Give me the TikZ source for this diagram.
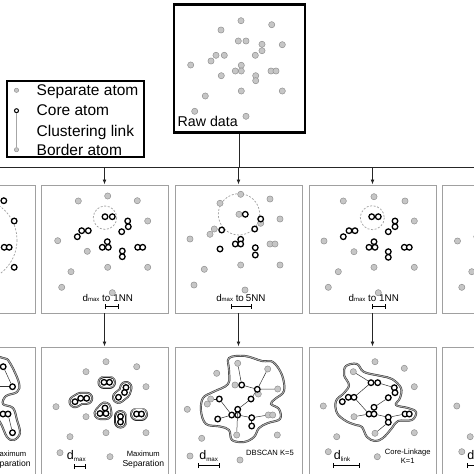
\documentclass[tikz,border=0pt]{standalone}
\usepackage{fontspec}
\setmainfont{Liberation Sans}
\usetikzlibrary{arrows.meta}
\definecolor{dotfill}{HTML}{C6C6C6}
\definecolor{dotline}{HTML}{8A8A8A}
\definecolor{pgray}{HTML}{A0A0A0}
\definecolor{hullgray}{HTML}{A6A6A6}
\newcommand\dm{d{\fontsize{6}{7}\selectfont max}}
\newcommand\dsub[1]{{\fontsize{12.5}{13}\selectfont d}{\fontsize{6.2}{7}\selectfont\raisebox{-1.3pt}{#1}}}
\newcommand\clhull[1]{%
 \draw[line width=13pt,line cap=round,line join=round,black!85] #1;
 \draw[line width=12pt,line cap=round,line join=round,hullgray] #1;
 \draw[line width=10.2pt,line cap=round,line join=round,black!85] #1;
 \draw[line width=9.2pt,line cap=round,line join=round,white] #1;}
\begin{document}
\begin{tikzpicture}[x=1pt,y=-1pt,
 gdot/.style={circle,draw=dotline,fill=dotfill,line width=0.45pt,minimum size=6.2pt,inner sep=0pt},
 cdot/.style={circle,draw=black,fill=white,line width=1.3pt,minimum size=5.6pt,inner sep=0pt},
 panel/.style={draw=pgray,line width=0.9pt,minimum width=127pt,minimum height=128pt,inner sep=0pt},
 panelb/.style={panel,minimum height=150pt},
 rawbox/.style={draw=black,line width=2.6pt,minimum width=131pt,minimum height=128pt,inner sep=0pt},
 legbox/.style={draw=black,line width=1.5pt,minimum width=137pt,minimum height=76pt,inner sep=0pt},
 legt/.style={anchor=base west,inner sep=0pt,font=\fontsize{15.5}{18}\selectfont},
 flow/.style={draw=black!85,line width=0.8pt},
 flowarrow/.style={flow,-{Latex[length=5pt,width=3.8pt]}},
 dashc/.style={draw=gray!75,dash pattern=on 2pt off 1.6pt,line width=0.7pt},
 link/.style={draw=black!80,line width=0.5pt},
 scalebar/.style={draw=black,line width=0.8pt,{Bar[width=5pt]}-{Bar[width=5pt]}},
 hull/.style={draw=black!85,line width=0.45pt,double=hullgray,double distance=1.1pt},
 lbl/.style={inner sep=0pt,font=\fontsize{9.8}{11}\selectfont},
 small/.style={inner sep=0pt,font=\fontsize{7.6}{9}\selectfont},
]
\useasboundingbox (0,0) rectangle (474,474);
\clip (0,0) rectangle (474,474);

% ---------- raw data ----------
\node[rawbox] (raw) at (239.5,68.5) {};
\foreach \x/\y [count=\i] in {241/20.7,271.7/24.7,221/30,238.3/41,246/41,262/44.3,262/50.7,282.3/44.7,216/55.3,224.3/55.3,211/61,255.3/55.3,190.7/65,241.3/65.3,235.3/71,241.3/71,271/71,276/71,221.3/75.7,255.7/75.7,255.7/80.7,241.3/91,282.3/91,205.3/96,194.7/111.3,246/116.3}
  \node[gdot] (r\i) at (\x,\y) {};
\node[anchor=base west,inner sep=0pt,font=\fontsize{14.2}{16}\selectfont] (rawt) at (177.5,126.7) {Raw data};

% ---------- legend ----------
\node[legbox] (legend) at (75.5,119) {};
\node[gdot,minimum size=4.3pt] (lg1) at (16.5,90.3) {};
\node[cdot,minimum size=4pt,line width=1pt] (lg2) at (16.5,110.7) {};
\node[gdot,minimum size=4.3pt] (lg4) at (16.5,149.7) {};
\draw[draw=gray!70,line width=0.8pt] (lg2) -- (lg4);
\node[legt] (lt1) at (36.5,95.7) {Separate atom};
\node[legt] (lt2) at (36.5,115.7) {Core atom};
\node[legt] (lt3) at (36.5,136) {Clustering link};
\node[legt] (lt4) at (36.5,155) {Border atom};

% ---------- panels ----------
\node[panel] (L2) at (-28.5,249) {};
\node[panel] (A2) at (104.5,249) {};
\node[panel] (B2) at (238.5,249) {};
\node[panel] (C2) at (372.5,249) {};
\node[panel] (R2) at (506,249) {};
\node[panelb] (L3) at (-28.5,422) {};
\node[panelb] (A3) at (104.5,422) {};
\node[panelb] (B3) at (238.5,422) {};
\node[panelb] (C3) at (372.5,422) {};
\node[panelb] (R3) at (506,422) {};

% ---------- flow ----------
\coordinate (hl) at (0,167);
\coordinate (hr) at (474,167);
\draw[flow] (hl) -- (hr);
\draw[flow] (raw.south) -- (raw.south |- hl);
\foreach \p in {A2,B2,C2} \draw[flowarrow] (\p.north |- hl) -- (\p.north);
\draw[flowarrow] (A2.south) -- (A3.north);
\draw[flowarrow] (B2.south) -- (B3.north);
\draw[flowarrow] (C2.south) -- (C3.north);

% ---------- row 2 : left partial ----------
\begin{scope}
\clip (L2.south west) rectangle (L2.north east);
\draw[dashc] (-25,240) circle (42);
\foreach \x/\y [count=\i] in {3.8/200.7,14.2/221,4.2/247.3,9.2/247.3,14.2/267.3}
  \node[cdot] (L2b\i) at (\x,\y) {};
\end{scope}

% ---------- row 2 : A ----------
\draw[dashc] (105,217.7) circle (11.7);
\foreach \x/\y [count=\i] in {107.7/196,78.3/201,137.3/200.7,147.7/221,57.7/240.7,87.3/251.3,107.7/267.3,147.7/267.3,71/271.7,61.7/287.3,112.3/292.7}
  \node[gdot] (A2g\i) at (\x,\y) {};
\foreach \x/\y [count=\i] in {105/216.7,112.3/216.7,127.7/221,128.3/226.7,121.7/231.7,81.7/230.7,88.3/230.7,77.3/236.7,107.3/241.7,102.3/247.3,108.3/247.3,122.3/251,122.3/256.7,137.7/247.3,142.7/247.3}
  \node[cdot] (A2b\i) at (\x,\y) {};
\node[lbl] (A2t) at (107.8,297.7) {\dm\ to\hspace{3pt}1NN};
\coordinate (A2s1) at (105,306.7); \coordinate (A2s2) at (118.3,306.7);
\draw[scalebar] (A2s1) -- (A2s2);

% ---------- row 2 : B ----------
\draw[dashc] (239,214.3) circle (20.7);
\foreach \x/\y [count=\i] in {240.7/194.3,220/203.3,270/199,239/214.3,260.7/223.3,280/219,214.3/229,210/234.3,190/239,270/244,275/244,240.7/265,280/265,204.3/269.3,194/285,245/290}
  \node[gdot] (B2g\i) at (\x,\y) {};
\foreach \x/\y [count=\i] in {245.3/214.3,260.7/219,254.7/229,221.7/230,240.7/239.3,235.3/244,240.7/244,220/249,255.3/247.7,255.3/255}
  \node[cdot] (B2b\i) at (\x,\y) {};
\node[lbl] (B2t) at (240.9,297.7) {\dm\ to\hspace{2pt}5NN};
\coordinate (B2s1) at (231,306.7); \coordinate (B2s2) at (251.7,306.7);
\draw[scalebar] (B2s1) -- (B2s2);

% ---------- row 2 : C ----------
\draw[dashc] (372.3,217.7) circle (12);
\foreach \x/\y [count=\i] in {374/196.7,343.3/201,405/201,414.3/221,324/241,354/251.7,374/267.3,414.3/267.3,338.3/271.7,328.3/287.3,378.3/292.7}
  \node[gdot] (C2g\i) at (\x,\y) {};
\foreach \x/\y [count=\i] in {371.7/216.7,378.3/216.7,395/221,395/226.7,388.3/231.7,349/230.7,355/230.7,343.3/236.7,374/241.7,369/247.3,375/247.3,388.3/251.7,388.3/257.3,404.3/247.3,409.3/247.3}
  \node[cdot] (C2b\i) at (\x,\y) {};
\node[lbl] (C2t) at (373.7,297.7) {\dm\ to\hspace{3pt}1NN};
\coordinate (C2s1) at (371.7,306.7); \coordinate (C2s2) at (386,306.7);
\draw[scalebar] (C2s1) -- (C2s2);

% ---------- row 2 : right partial ----------
\begin{scope}
\clip (R2.south west) rectangle (R2.north east);
\foreach \x/\y [count=\i] in {457.5/241,471.8/271.7,461.8/287.3,476.8/236.7}
  \node[gdot] (R2g\i) at (\x,\y) {};
\end{scope}

% ---------- row 3 : left partial ----------
\begin{scope}
\clip (L3.south west) rectangle (L3.north east);
\draw[hull] plot[smooth cycle,tension=0.6] coordinates {(-20,356) (3,358) (10,363) (19,383) (17,392) (6,396) (3,404) (13,408) (17,420) (20,433) (14,440) (7,437) (0,422) (-10,410) (-20,400)};
\foreach \x/\y [count=\i] in {3.2/366.7,12.5/386.7,3/414,8/414,12.5/432.7}
  \node[cdot] (L3b\i) at (\x,\y) {};
\coordinate (L3e) at (-6,386.7);
\draw[link] (L3b1) -- (L3b2);
\draw[link] (L3b2) -- (L3e);
\draw[link] (L3b4) -- (L3b5);
\node[small] (L3t1) at (9.8,453.3) {Maximum};
\node[small,font=\fontsize{8.6}{10}\selectfont] (L3t2) at (9.8,464) {Separation};
\end{scope}

% ---------- row 3 : A (Maximum Separation) ----------
\clhull{(104,382.3) -- (109.5,382.3)}
\clhull{(126,387.5) -- (124.5,392.5) -- (118.5,397.3)}
\clhull{(75,401.7) -- (80.7,398.3) -- (86.7,398.3)}
\clhull{(105,408) -- (100,413.5) -- (106,413.5) -- cycle}
\clhull{(120.5,416.5) -- (120.5,422)}
\clhull{(136.5,414) -- (141.5,414)}
\foreach \x/\y [count=\i] in {106/361.7,86/371.7,136.7/366.7,146/386.7,56/406.7,86/416.7,106/432.7,146/432.7,70/436.7,60/452.7,110/456.7}
  \node[gdot] (A3g\i) at (\x,\y) {};
\foreach \x/\y [count=\i] in {104/382.3,109.5/382.3,126/387.5,124.5/392.5,118.5/397.3,75/401.7,80.7/398.3,86.7/398.3,105/408,100/413.5,106/413.5,120.5/416.5,120.5/422,136.5/414,141.5/414}
  \node[cdot] (A3b\i) at (\x,\y) {};
\node[inner sep=0pt] (A3t) at (76.3,456) {\dsub{max}};
\coordinate (A3s1) at (74,466.7); \coordinate (A3s2) at (86,466.7);
\draw[scalebar] (A3s1) -- (A3s2);
\node[small] (A3m) at (143.3,453.3) {Maximum};
\node[small,font=\fontsize{8.6}{10}\selectfont] (A3n) at (143.3,464) {Separation};

% ---------- row 3 : B (DBSCAN) ----------
\draw[hull] plot[smooth cycle,tension=0.6] coordinates {(229,358) (245,356) (262,361) (273,362) (282,375) (284,391) (275,399) (271,404) (279,409) (280,419) (268,423) (259,428) (254,437) (244,442) (232,440) (229,430) (220,426.5) (206,424) (201,411) (203,398) (213,392) (228,384) (229,370)};
\foreach \x/\y [count=\i] in {237.7/363.3,216.7/373.3,267.7/369,235/385,277.7/389,258.3/394,210.7/399,207.3/404,187.3/409.3,268.3/415,272.7/415,236.7/435,277.3/435,201.7/438.3,190/456,240/460}
  \node[gdot] (B3g\i) at (\x,\y) {};
\foreach \x/\y [count=\i] in {241.7/385,257.3/389.3,251/399,219.3/399,237.7/409.3,231.7/415,237.7/415,217.7/419,251.7/417.7,251.7/426}
  \node[cdot] (B3b\i) at (\x,\y) {};
\foreach \a/\b in {B3g1/B3b1,B3b1/B3b2,B3b2/B3g3,B3b2/B3g5,B3b2/B3b3,B3b3/B3b5,B3b4/B3g7,B3b4/B3b6,B3b6/B3b8,B3b7/B3b9,B3b9/B3g10,B3b5/B3g12,B3b9/B3b10,B3b5/B3b7}
  \draw[link] (\a) -- (\b);
\node[inner sep=0pt] (B3t) at (208.7,456) {\dsub{max}};
\coordinate (B3s1) at (198.3,465.7); \coordinate (B3s2) at (219.3,465.7);
\draw[scalebar] (B3s1) -- (B3s2);
\node[small] (B3k) at (270,452.7) {DBSCAN K=5};

% ---------- row 3 : C (Core-Linkage) ----------
\draw[hull] plot[smooth cycle,tension=0.6] coordinates {(346,366) (357,364) (364,372) (381,376) (392,379) (401,388) (400,398) (396,405) (408,408) (416,412) (412,420) (398,421) (392,428) (383,438) (375,441) (367,437) (362,427) (356,425) (346,421) (337,413) (336,401) (344,393) (349,385) (344,375)};
\foreach \x/\y [count=\i] in {375/361.7,404.3/368.3,353.3/371.7,414.3/386.7,323.3/406,354/416.7,375/433.3,414.3/432.7,336.7/436.7,328.3/451.7,377.3/456.7}
  \node[gdot] (C3g\i) at (\x,\y) {};
\foreach \x/\y [count=\i] in {371/382.7,377.7/382.7,394.3/387.7,395/392.7,388.3/397.7,342.3/401.7,348.3/397.3,354/397.3,374/407.3,369/414,374/414,388.3/417.3,388.3/422.3,405/414,409.3/414}
  \node[cdot] (C3b\i) at (\x,\y) {};
\foreach \a/\b in {C3g3/C3b1,C3b2/C3b3,C3b5/C3b9,C3b8/C3b10,C3b10/C3g6,C3b11/C3b12,C3b12/C3b14,C3b13/C3g7,C3b8/C3b1}
  \draw[link] (\a) -- (\b);
\node[inner sep=0pt] (C3t) at (342,456) {\dsub{link}};
\coordinate (C3s1) at (333.3,465.7); \coordinate (C3s2) at (359.3,465.7);
\draw[scalebar] (C3s1) -- (C3s2);
\node[small] (C3k1) at (407.7,452.7) {Core-Linkage};
\node[small] (C3k2) at (407.7,460.7) {K=1};

% ---------- row 3 : right partial ----------
\begin{scope}
\clip (R3.south west) rectangle (R3.north east);
\foreach \x/\y [count=\i] in {456.8/406,470.2/436.7,461.8/451.7}
  \node[gdot] (R3g\i) at (\x,\y) {};
\node[inner sep=0pt] (R3t) at (475.5,456) {\dsub{link}};
\coordinate (R3s1) at (466.8,465.7); \coordinate (R3s2) at (492.8,465.7);
\draw[scalebar] (R3s1) -- (R3s2);
\end{scope}
\end{tikzpicture}
\end{document}
